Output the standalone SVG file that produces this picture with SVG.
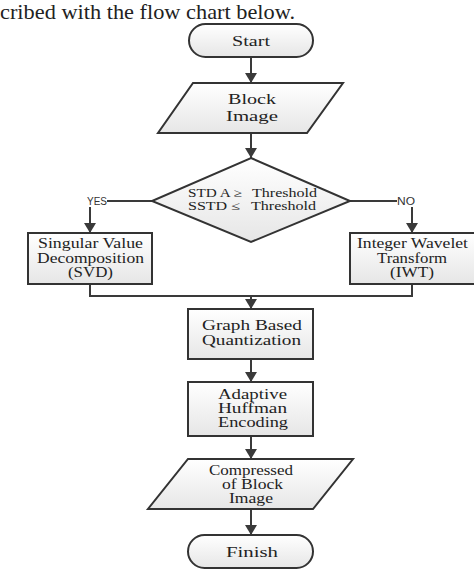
<svg xmlns="http://www.w3.org/2000/svg" width="474" height="569" viewBox="0 0 474 569">
<defs>
<linearGradient id="g" x1="0" y1="0" x2="0" y2="1">
<stop offset="0" stop-color="#ffffff"/>
<stop offset="1" stop-color="#e6e6e6"/>
</linearGradient>
<marker id="ah" viewBox="0 0 10 12" refX="10" refY="6" markerWidth="10" markerHeight="12" markerUnits="userSpaceOnUse" orient="auto">
<path d="M0,0 L10,6 L0,12 z" fill="#3a3a3a"/>
</marker>
</defs>
<style>
.shape{fill:url(#g);stroke:#333;stroke-width:2}
.t{font-family:"Liberation Serif","Times New Roman",serif;font-size:14px;fill:#222;text-anchor:middle}
.d{font-family:"Liberation Serif","Times New Roman",serif;font-size:12px;fill:#222}
.lbl{font-family:"Liberation Sans",Arial,sans-serif;font-size:10px;fill:#333}
.c{fill:none;stroke:#3a3a3a;stroke-width:2}
.a{marker-end:url(#ah)}
</style>
<rect width="474" height="569" fill="#fff"/>
<text x="0" y="19" font-family="'Liberation Serif','Times New Roman',serif" font-size="21" fill="#222" textLength="295" lengthAdjust="spacingAndGlyphs">cribed with the flow chart below.</text>

<g id="connectors">
<line class="c a" x1="251" y1="57" x2="251" y2="83"/>
<line class="c a" x1="251" y1="133" x2="251" y2="158"/>
<line class="c" x1="152" y1="201" x2="107" y2="201"/>
<line class="c a" x1="90" y1="207" x2="90" y2="233"/>
<line class="c" x1="350" y1="201" x2="397" y2="201"/>
<line class="c a" x1="412" y1="207" x2="412" y2="233"/>
<polyline class="c" points="90,284 90,296 412,296 412,284"/>
<line class="c a" x1="251" y1="296" x2="251" y2="309"/>
<line class="c a" x1="251" y1="359" x2="251" y2="382"/>
<line class="c a" x1="251" y1="436" x2="251" y2="459"/>
<line class="c a" x1="251" y1="509" x2="251" y2="535"/>
<text class="lbl" x="87" y="204.5" textLength="20" lengthAdjust="spacingAndGlyphs">YES</text>
<text class="lbl" x="397" y="204.5" textLength="18" lengthAdjust="spacingAndGlyphs">NO</text>
</g>

<g id="start">
<rect class="shape" x="189" y="24" width="124" height="33" rx="16.5"/>
<text class="t" x="251" y="46" textLength="38" lengthAdjust="spacingAndGlyphs">Start</text>
</g>

<g id="block-image">
<polygon class="shape" points="193,83 343,83 307,133 158,133"/>
<text class="t" x="252" y="104" textLength="48" lengthAdjust="spacingAndGlyphs">Block</text>
<text class="t" x="252" y="121" textLength="52" lengthAdjust="spacingAndGlyphs">Image</text>
</g>

<g id="decision">
<polygon class="shape" points="251,158 350,201 251,242 152,201"/>
<text class="d" x="188" y="197" textLength="54" lengthAdjust="spacingAndGlyphs">STD A ≥</text>
<text class="d" x="252" y="197" textLength="65" lengthAdjust="spacingAndGlyphs">Threshold</text>
<text class="d" x="188" y="210" textLength="52" lengthAdjust="spacingAndGlyphs">SSTD ≤</text>
<text class="d" x="251" y="210" textLength="65" lengthAdjust="spacingAndGlyphs">Threshold</text>
</g>

<g id="svd">
<rect class="shape" x="28" y="233" width="124" height="51"/>
<text class="t" x="90.5" y="248" textLength="105" lengthAdjust="spacingAndGlyphs">Singular Value</text>
<text class="t" x="90.5" y="263" textLength="107" lengthAdjust="spacingAndGlyphs">Decomposition</text>
<text class="t" x="90.5" y="277" textLength="45" lengthAdjust="spacingAndGlyphs">(SVD)</text>
</g>

<g id="iwt">
<rect class="shape" x="350" y="233" width="125" height="51"/>
<text class="t" x="412.5" y="248" textLength="111" lengthAdjust="spacingAndGlyphs">Integer Wavelet</text>
<text class="t" x="412" y="263" textLength="70" lengthAdjust="spacingAndGlyphs">Transform</text>
<text class="t" x="412" y="277" textLength="44" lengthAdjust="spacingAndGlyphs">(IWT)</text>
</g>

<g id="graph-quant">
<rect class="shape" x="188" y="309" width="125" height="50"/>
<text class="t" x="252" y="330" textLength="100" lengthAdjust="spacingAndGlyphs">Graph Based</text>
<text class="t" x="251.5" y="345" textLength="99" lengthAdjust="spacingAndGlyphs">Quantization</text>
</g>

<g id="huffman">
<rect class="shape" x="188" y="382" width="125" height="54"/>
<text class="t" x="252.5" y="399" textLength="69" lengthAdjust="spacingAndGlyphs">Adaptive</text>
<text class="t" x="252.5" y="413" textLength="69" lengthAdjust="spacingAndGlyphs">Huffman</text>
<text class="t" x="253" y="427" textLength="70" lengthAdjust="spacingAndGlyphs">Encoding</text>
</g>

<g id="compressed">
<polygon class="shape" points="188,459 353,459 313,509 148,509"/>
<text class="t" x="251" y="475" textLength="84" lengthAdjust="spacingAndGlyphs">Compressed</text>
<text class="t" x="252.5" y="489" textLength="61" lengthAdjust="spacingAndGlyphs">of Block</text>
<text class="t" x="251" y="503" textLength="44" lengthAdjust="spacingAndGlyphs">Image</text>
</g>

<g id="finish">
<rect class="shape" x="188" y="535" width="125" height="33" rx="16.5"/>
<text class="t" x="252" y="557" textLength="52" lengthAdjust="spacingAndGlyphs">Finish</text>
</g>
</svg>
